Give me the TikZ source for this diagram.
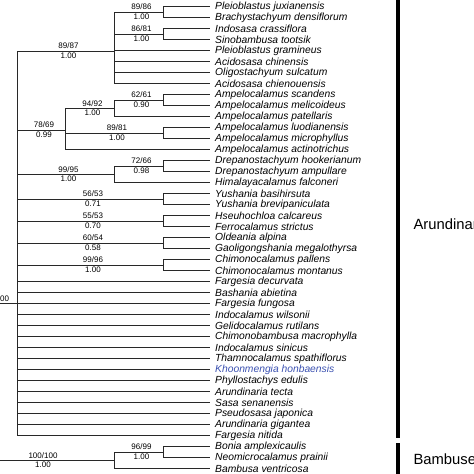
\documentclass[tikz,border=0pt]{standalone}
\usepackage{fontspec}
\setmainfont{Liberation Sans}
\definecolor{khoonblue}{RGB}{58,80,176}
\definecolor{treeline}{RGB}{40,40,40}
\begin{document}
\begin{tikzpicture}[x=1pt,y=-1pt,
                branch/.style={draw=treeline, line width=0.9pt},
                leaf/.style={anchor=west, inner xsep=5pt, inner ysep=0.5pt, text=black, font=\fontsize{10.3}{11}\selectfont\itshape},
                bs/.style={above, inner sep=1.7pt, xshift=3pt, font=\fontsize{8}{8.5}\selectfont},
                pp/.style={below, inner sep=1.7pt, xshift=3pt, font=\fontsize{8}{8.5}\selectfont},
                clade/.style={anchor=west, font=\fontsize{14.8}{16}\selectfont},
                cladebar/.style={line width=4pt, black}]
            \useasboundingbox (0,0) rectangle (474,474);

            \foreach \nm [count=\i] in {Pleioblastus juxianensis,Brachystachyum densiflorum,Indosasa crassiflora,
                Sinobambusa tootsik,Pleioblastus gramineus,Acidosasa chinensis,Oligostachyum sulcatum,
                Acidosasa chienouensis,Ampelocalamus scandens,Ampelocalamus melicoideus,Ampelocalamus patellaris,
                Ampelocalamus luodianensis,Ampelocalamus microphyllus,Ampelocalamus actinotrichus,
                Drepanostachyum hookerianum,Drepanostachyum ampullare,Himalayacalamus falconeri,
                Yushania basihirsuta,Yushania brevipaniculata,Hseuhochloa calcareus,Ferrocalamus strictus,
                Oldeania alpina,Gaoligongshania megalothyrsa,Chimonocalamus pallens,Chimonocalamus montanus,
                Fargesia decurvata,Bashania abietina,Fargesia fungosa,Indocalamus wilsonii,Gelidocalamus rutilans,
                Chimonobambusa macrophylla,Indocalamus sinicus,Thamnocalamus spathiflorus,
                \textcolor{khoonblue}{Khoonmengia honbaensis},Phyllostachys edulis,Arundinaria tecta,
                Sasa senanensis,Pseudosasa japonica,Arundinaria gigantea,Fargesia nitida,
                Bonia amplexicaulis,Neomicrocalamus prainii,Bambusa ventricosa}
                \node[leaf] (l\i) at (210,{6.5+11*(\i-1)}) {\nm};

            \coordinate (A) at (163,12);
            \coordinate (B) at (163,34);
            \coordinate (C) at (114,51);
            \coordinate (D) at (163,100);
            \coordinate (E) at (114,108.25);
            \coordinate (F) at (163,133);
            \coordinate (G) at (65,130);
            \coordinate (H) at (163,166);
            \coordinate (I) at (114,174.25);
            \coordinate (J) at (163,199);
            \coordinate (K) at (163,221);
            \coordinate (L) at (163,243);
            \coordinate (M) at (163,265);
            \coordinate (AR) at (17,303.5);
            \coordinate (N) at (163,452);
            \coordinate (O) at (114,460.25);
            \coordinate (R) at (-34,380);

            \foreach \p/\c in {A/1,A/2,B/3,B/4,C/5,C/6,C/7,C/8,D/9,D/10,E/11,F/12,F/13,G/14,
                H/15,H/16,I/17,J/18,J/19,K/20,K/21,L/22,L/23,M/24,M/25,N/41,N/42,O/43}
                \draw[branch] (\p) |- (l\c.west);
            \foreach \c in {26,...,40}
                \draw[branch] (AR) |- (l\c.west);

            \foreach \p/\c/\sa/\sb in {C/A/{89/86}/1.00,C/B/{86/81}/1.00,AR/C/{89/87}/1.00,
                E/D/{62/61}/0.90,G/E/{94/92}/1.00,G/F/{89/81}/1.00,AR/G/{78/69}/0.99,
                I/H/{72/66}/0.98,AR/I/{99/95}/1.00,AR/J/{56/53}/0.71,AR/K/{55/53}/0.70,
                AR/L/{60/54}/0.58,AR/M/{99/96}/1.00,O/N/{96/99}/1.00,R/O/{100/100}/1.00}
                \draw[branch] (\p) |- (\c) node[bs,pos=0.75] {\sa} node[pp,pos=0.75] {\sb};
            \draw[branch] (R) |- (AR) node[bs,pos=0.75] {100/100};

            \draw[cladebar] (398,0) -- (398,438);
            \draw[cladebar] (398,443) -- (398,474);
            \node[clade] (arund) at (410,224) {Arundinarieae};
            \node[clade] (bamb) at (410,459) {Bambuseae};
        \end{tikzpicture}
\end{document}
